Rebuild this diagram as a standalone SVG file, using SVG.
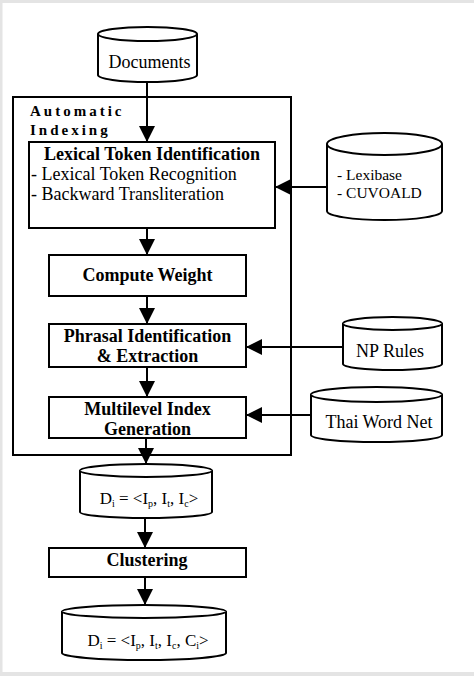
<svg xmlns="http://www.w3.org/2000/svg" width="474" height="676" viewBox="0 0 474 676">
<style>
.box{fill:#fff;stroke:#000;stroke-width:2}
.cyl{fill:#fff;stroke:#000;stroke-width:2}
.frame{fill:none;stroke:#000;stroke-width:2}
.conn{stroke:#000;stroke-width:2;fill:none}
.t{font-family:"Liberation Serif","Times New Roman",serif;fill:#000}
.b{font-weight:bold;font-size:18px}
.r{font-size:18px}
.s{font-size:15.5px}
.lbl{font-family:"Liberation Serif","Times New Roman",serif;font-weight:bold;font-size:15px;letter-spacing:3px}
</style>
<defs>
<marker id="ah" viewBox="0 0 16 16" refX="16" refY="8" markerWidth="16" markerHeight="16" markerUnits="userSpaceOnUse" orient="auto">
<path d="M0,0 L16,8 L0,16 z" fill="#000"/>
</marker>
</defs>
<rect x="0" y="0" width="474" height="676" fill="#fff"/>
<rect x="0" y="0" width="474" height="3" fill="#e4e4e4"/>
<rect x="0" y="0" width="2.5" height="676" fill="#e4e4e4"/>
<rect x="0" y="672" width="474" height="4" fill="#e4e4e4"/>

<g id="automatic-indexing">
<rect class="frame" x="13" y="97" width="278" height="358"/>
<text class="lbl" x="30" y="116">Automatic</text>
<text class="lbl" x="30" y="135">Indexing</text>
</g>

<g id="documents">
<path class="cyl" d="M98,34 A49.5,7 0 0 1 197,34 L197,75 A49.5,7 0 0 1 98,75 Z"/>
<path class="cyl" fill="none" d="M98,34 A49.5,7 0 0 0 197,34"/>
<text class="t r" x="149.5" y="68" text-anchor="middle">Documents</text>
</g>

<g id="lexical-token-identification">
<rect class="box" x="29" y="142" width="246" height="86"/>
<text class="t b" x="152" y="160" text-anchor="middle">Lexical Token Identification</text>
<text class="t r" x="31" y="180">- Lexical Token Recognition</text>
<text class="t r" x="31" y="200">- Backward Transliteration</text>
</g>

<g id="lexibase">
<path class="cyl" d="M327,144 A57.5,11 0 0 1 442,144 L442,211 A57.5,9 0 0 1 327,211 Z"/>
<path class="cyl" fill="none" d="M327,144 A57.5,11 0 0 0 442,144"/>
<text class="t s" x="337" y="180">- Lexibase</text>
<text class="t s" x="337" y="198">- CUVOALD</text>
</g>

<g id="compute-weight">
<rect class="box" x="49" y="255" width="197" height="41"/>
<text class="t b" x="147.5" y="281" text-anchor="middle">Compute Weight</text>
</g>

<g id="phrasal-identification">
<rect class="box" x="49" y="324" width="197" height="43"/>
<text class="t b" x="147.5" y="342" text-anchor="middle">Phrasal Identification</text>
<text class="t b" x="147.5" y="362" text-anchor="middle">&amp; Extraction</text>
</g>

<g id="np-rules">
<path class="cyl" d="M343,323.5 A49.5,6.5 0 0 1 442,323.5 L442,364 A49.5,6 0 0 1 343,364 Z"/>
<path class="cyl" fill="none" d="M343,323.5 A49.5,6.5 0 0 0 442,323.5"/>
<text class="t r" x="390" y="357" text-anchor="middle">NP Rules</text>
</g>

<g id="multilevel-index-generation">
<rect class="box" x="49" y="397" width="197" height="41"/>
<text class="t b" x="147.5" y="415" text-anchor="middle">Multilevel Index</text>
<text class="t b" x="147.5" y="435" text-anchor="middle">Generation</text>
</g>

<g id="thai-word-net">
<path class="cyl" d="M311,394.5 A65.5,7.5 0 0 1 442,394.5 L442,435 A65.5,7 0 0 1 311,435 Z"/>
<path class="cyl" fill="none" d="M311,394.5 A65.5,7.5 0 0 0 442,394.5"/>
<text class="t r" x="379" y="428" text-anchor="middle">Thai Word Net</text>
</g>

<g id="di-index">
<path class="cyl" d="M80,470.5 A66,6.5 0 0 1 212,470.5 L212,512 A66,6 0 0 1 80,512 Z"/>
<path class="cyl" fill="none" d="M80,470.5 A66,6.5 0 0 0 212,470.5"/>
<text class="t" font-size="17" x="149" y="504" text-anchor="middle">D<tspan font-size="10" dy="3">i</tspan><tspan dy="-3"> = &lt;I</tspan><tspan font-size="10" dy="3">p</tspan><tspan dy="-3">, I</tspan><tspan font-size="10" dy="3">t</tspan><tspan dy="-3">, I</tspan><tspan font-size="10" dy="3">c</tspan><tspan dy="-3">&gt;</tspan></text>
</g>

<g id="clustering">
<rect class="box" x="49" y="548" width="197" height="29"/>
<text class="t b" x="147" y="566" text-anchor="middle">Clustering</text>
</g>

<g id="di-clustered">
<path class="cyl" d="M62,611.5 A82,6.5 0 0 1 226,611.5 L226,653 A82,7 0 0 1 62,653 Z"/>
<path class="cyl" fill="none" d="M62,611.5 A82,6.5 0 0 0 226,611.5"/>
<text class="t" font-size="17" x="148" y="646" text-anchor="middle">D<tspan font-size="10" dy="3">i</tspan><tspan dy="-3"> = &lt;I</tspan><tspan font-size="10" dy="3">p</tspan><tspan dy="-3">, I</tspan><tspan font-size="10" dy="3">t</tspan><tspan dy="-3">, I</tspan><tspan font-size="10" dy="3">c</tspan><tspan dy="-3">, C</tspan><tspan font-size="10" dy="3">i</tspan><tspan dy="-3">&gt;</tspan></text>
</g>

<g id="connectors">
<line class="conn" x1="147" y1="82" x2="147" y2="142" marker-end="url(#ah)"/>
<line class="conn" x1="147" y1="228" x2="147" y2="255" marker-end="url(#ah)"/>
<line class="conn" x1="147" y1="296" x2="147" y2="324" marker-end="url(#ah)"/>
<line class="conn" x1="147" y1="367" x2="147" y2="397" marker-end="url(#ah)"/>
<line class="conn" x1="146" y1="438" x2="146" y2="464" marker-end="url(#ah)"/>
<line class="conn" x1="145" y1="518" x2="145" y2="548" marker-end="url(#ah)"/>
<line class="conn" x1="145" y1="577" x2="145" y2="605" marker-end="url(#ah)"/>
<line class="conn" x1="327" y1="187" x2="275" y2="187" marker-end="url(#ah)"/>
<line class="conn" x1="343" y1="347" x2="246" y2="347" marker-end="url(#ah)"/>
<line class="conn" x1="311" y1="415" x2="246" y2="415" marker-end="url(#ah)"/>
</g>
</svg>
